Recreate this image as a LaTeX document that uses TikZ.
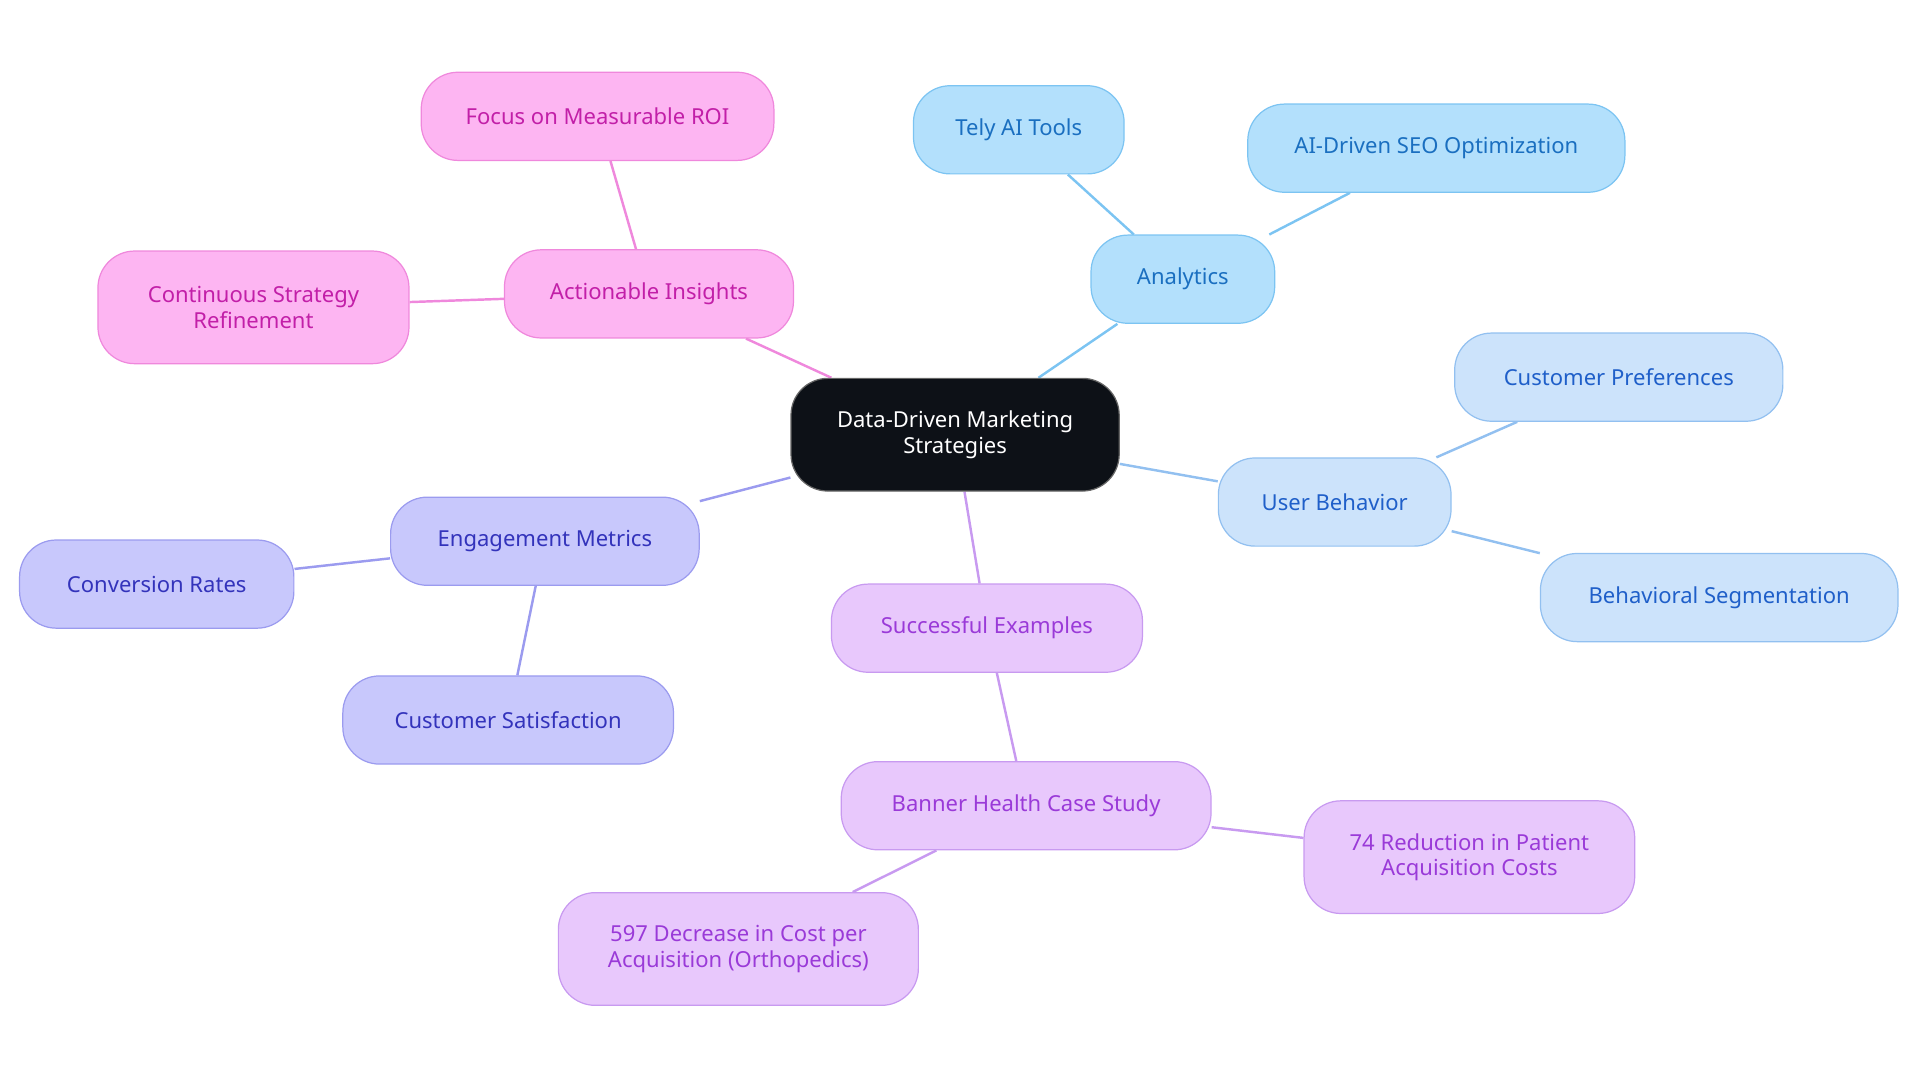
\documentclass[tikz,border=0pt]{standalone}
\usepackage{fontspec}
\setmainfont{Noto Sans}
\usetikzlibrary{backgrounds}
\definecolor{bF}{HTML}{B3E0FC}\definecolor{bS}{HTML}{7CC4F2}\definecolor{bT}{HTML}{1A6FC0}
\definecolor{lF}{HTML}{CCE3FB}\definecolor{lS}{HTML}{92C0F0}\definecolor{lT}{HTML}{1F5FC9}
\definecolor{pF}{HTML}{FDB5F2}\definecolor{pS}{HTML}{EF88DC}\definecolor{pT}{HTML}{C21FA8}
\definecolor{iF}{HTML}{C8C8FC}\definecolor{iS}{HTML}{9B9BEF}\definecolor{iT}{HTML}{3333BB}
\definecolor{uF}{HTML}{E8C8FC}\definecolor{uS}{HTML}{C89AF0}\definecolor{uT}{HTML}{9A3AD8}
\definecolor{cF}{HTML}{0D1117}
\tikzset{
 n/.style={draw, line width=1pt, rounded corners=30pt, minimum height=72pt, align=center, font=\fontsize{18}{21}\selectfont, inner sep=0pt},
 bl/.style={n, fill=bF, draw=bS, text=bT},
 lb/.style={n, fill=lF, draw=lS, text=lT},
 pk/.style={n, fill=pF, draw=pS, text=pT},
 ig/.style={n, fill=iF, draw=iS, text=iT},
 pu/.style={n, fill=uF, draw=uS, text=uT},
 e/.style={line width=2pt}
}
\begin{document}
\begin{tikzpicture}[x=1pt,y=-1pt]
\useasboundingbox (0,0) rectangle (1568,884);
\node[n, fill=cF, draw=black!60, text=white, minimum width=268pt, minimum height=92pt] (c) at (780,355) {Data-Driven Marketing\\Strategies};
\node[bl, minimum width=150pt] (an) at (966,228) {Analytics};
\node[bl, minimum width=172pt] (ty) at (832,106) {Tely AI Tools};
\node[bl, minimum width=308pt] (seo) at (1173,121) {AI-Driven SEO Optimization};
\node[lb, minimum width=190pt] (ub) at (1090,410) {User Behavior};
\node[lb, minimum width=268pt] (cp) at (1322,308) {Customer Preferences};
\node[lb, minimum width=292pt] (bs) at (1404,488) {Behavioral Segmentation};
\node[pk, minimum width=236pt] (ai) at (530,240) {Actionable Insights};
\node[pk, minimum width=288pt] (roi) at (488,95) {Focus on Measurable ROI};
\node[pk, minimum width=254pt, minimum height=92pt] (csr) at (207,251) {Continuous Strategy\\Refinement};
\node[ig, minimum width=252pt] (em) at (445,442) {Engagement Metrics};
\node[ig, minimum width=224pt] (cr) at (128,477) {Conversion Rates};
\node[ig, minimum width=270pt] (cs) at (415,588) {Customer Satisfaction};
\node[pu, minimum width=254pt] (se) at (806,513) {Successful Examples};
\node[pu, minimum width=302pt] (bh) at (838,658) {Banner Health Case Study};
\node[pu, minimum width=270pt, minimum height=92pt] (r74) at (1200,700) {74 Reduction in Patient\\Acquisition Costs};
\node[pu, minimum width=294pt, minimum height=92pt] (d597) at (603,775) {597 Decrease in Cost per\\Acquisition (Orthopedics)};
\begin{scope}[on background layer]
\draw[e, bS] (c) -- (an); \draw[e, bS] (an) -- (ty); \draw[e, bS] (an) -- (seo);
\draw[e, lS] (c) -- (ub); \draw[e, lS] (ub) -- (cp); \draw[e, lS] (ub) -- (bs);
\draw[e, pS] (c) -- (ai); \draw[e, pS] (ai) -- (roi); \draw[e, pS] (ai) -- (csr);
\draw[e, iS] (c) -- (em); \draw[e, iS] (em) -- (cr); \draw[e, iS] (em) -- (cs);
\draw[e, uS] (c) -- (se); \draw[e, uS] (se) -- (bh); \draw[e, uS] (bh) -- (r74); \draw[e, uS] (bh) -- (d597);
\end{scope}
\end{tikzpicture}
\end{document}
